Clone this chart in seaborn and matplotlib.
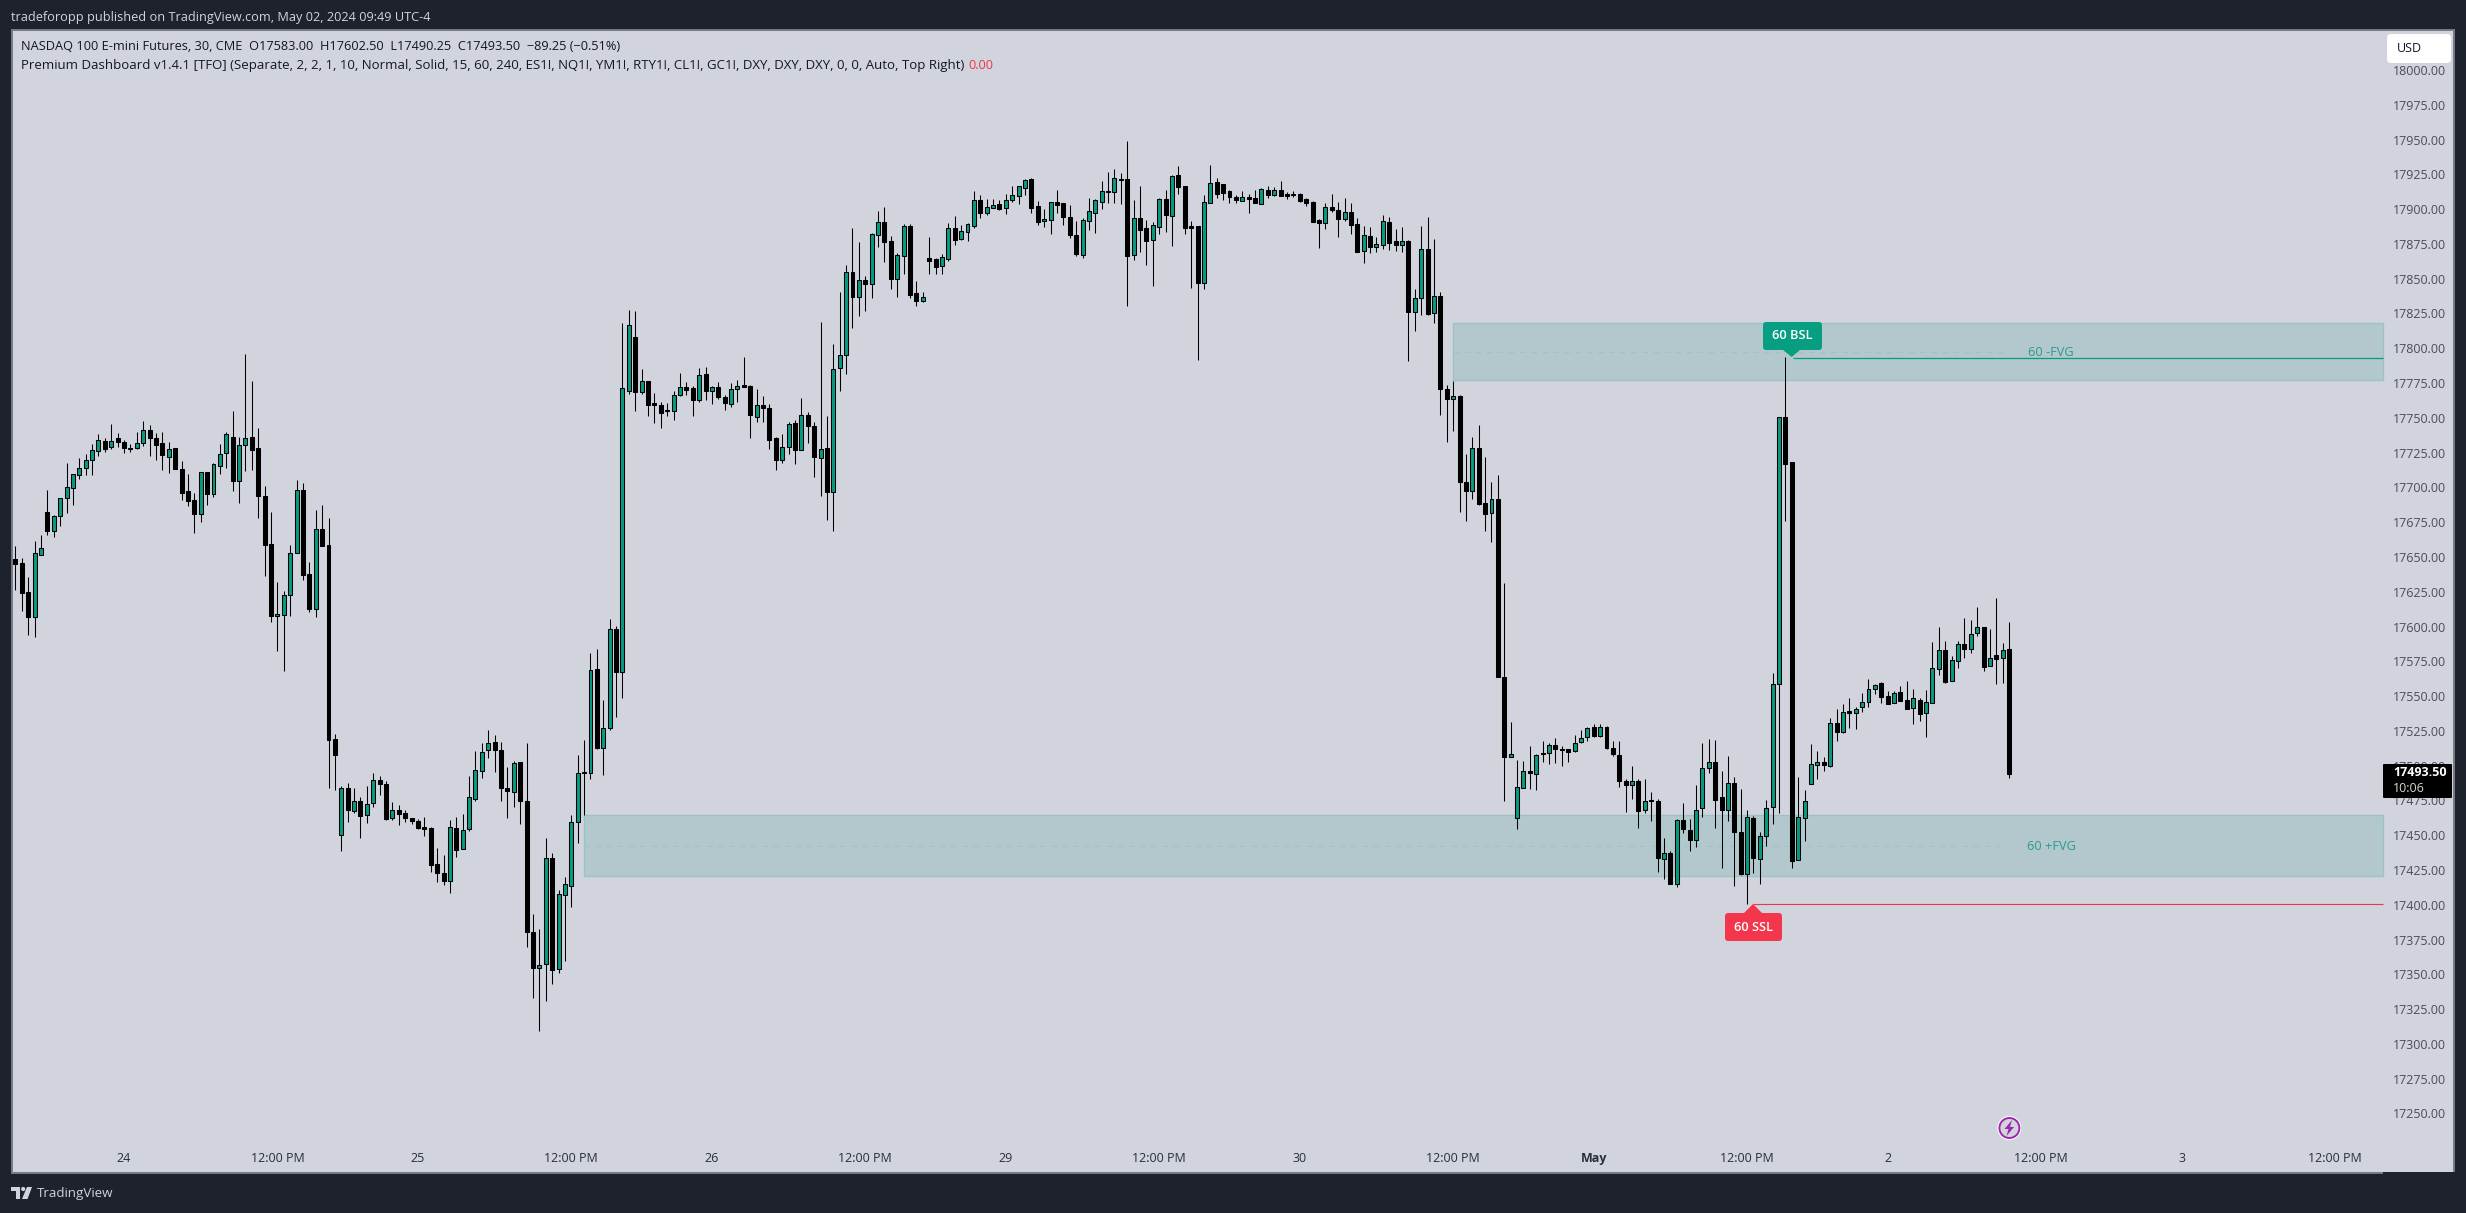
import numpy as np
import pandas as pd
import matplotlib
matplotlib.use('Agg')
import matplotlib.pyplot as plt
import seaborn as sns
from matplotlib.patches import Rectangle, Circle, Polygon, FancyBboxPatch
from matplotlib.transforms import IdentityTransform

# candle values (30 min bars, oldest first)
body_top = [
    17648.6, 17645.5, 17625, 17652.8, 17656.6, 17682.4, 17679.3, 17692.2, 17700.2, 17709.9, 17714.1, 17720, 17726.6, 17734.3, 17733.6, 17733.6, 17735.4, 17732.9, 17728, 17732.2,
    17741.3, 17741.3, 17735.4, 17731.9, 17727.3, 17728, 17713.4, 17697.4, 17690.8, 17711, 17711, 17716.9, 17724.2, 17738.1, 17736, 17730.8, 17735.7, 17736.4, 17728, 17693.5,
    17659, 17609.2, 17622.8, 17653.1, 17698.4, 17698.4, 17638.1, 17669.9, 17669.9, 17658.4, 17519.4, 17484.2, 17484.2, 17474.7, 17474.7, 17472.7, 17489.4, 17489.4, 17487, 17467.8,
    17468.1, 17465.7, 17462.6, 17460.5, 17455.6, 17454.9, 17429.5, 17422.5, 17455.6, 17454.9, 17453.5, 17477.2, 17497, 17510, 17516.6, 17517.3, 17511, 17483.8, 17501.6, 17502.3,
    17474.7, 17380.7, 17357, 17433.3, 17433.3, 17407.5, 17415.2, 17459.8, 17495, 17495.3, 17568.5, 17569.2, 17527.4, 17598.4, 17598.4,
    17771.1, 17816.5, 17807.8, 17776.7, 17776.2, 17760.4, 17759, 17755.6, 17766.6, 17771.9, 17771.9, 17771.2, 17781, 17781.2, 17771.9, 17771.9, 17764.7, 17770.5, 17773.1, 17773.3,
    17772.8, 17759.4, 17759, 17756.8, 17735.2, 17728.8, 17745.3, 17746, 17751.8, 17751.8, 17743.9, 17727.3, 17728, 17784.8, 17794.9, 17854.6, 17854.6, 17848.8, 17848.8, 17881.9,
    17890.5, 17890.5, 17876.8, 17866.8, 17887.6, 17887.6, 17839.5, 17836.6, 17864.6, 17863.9, 17865.3, 17886.2, 17886.2, 17884, 17889.1, 17906.3, 17906.3, 17901.3, 17903.2, 17903.4,
    17906.3, 17910.4, 17916.4, 17920.7, 17921.4, 17902, 17892.7, 17904.9, 17904.9, 17904.2, 17894.1, 17881.1, 17891.9, 17898.4, 17906.3, 17912.8, 17913, 17922.1, 17921.6, 17921.4,
    17893.4, 17893.4, 17886.4, 17888.3, 17907, 17907, 17923.6, 17924.3, 17916.6, 17887.9, 17887.6, 17904.9, 17918.5, 17919.2,
    17917.8, 17913, 17908.5, 17908.5, 17908.5, 17907.7, 17914.2, 17913.7, 17913.5, 17913.7, 17910.6, 17910.6, 17910.6, 17907, 17905.1, 17891.9, 17901.3, 17901.3, 17899.1, 17897.7,
    17897.7, 17889.1, 17881.1, 17880.4, 17874.7, 17891.2, 17890.5, 17876.8, 17876.8, 17876.8,
    17835.8, 17871, 17871, 17837.9, 17837.9, 17771, 17765.4, 17765.4, 17704.1, 17728.5, 17728.5, 17689.1, 17691.9, 17691.9, 17564, 17508.7, 17484.3, 17495.8, 17495.8, 17507.3,
    17509.3, 17514.6, 17514.6, 17512.1, 17512.1, 17516, 17520.1, 17526.8, 17527.5, 17527.8, 17527.8, 17512.8, 17507.9, 17489.1, 17489.1, 17489.1, 17474.9, 17475.5, 17474.9, 17436.9,
    17436.9, 17460.6, 17460.6, 17454, 17468.3, 17498.6, 17502.4, 17502.4, 17477.7, 17487.8, 17487.8, 17452.6, 17463.4, 17462.7, 17449.1, 17469.3, 17558.8, 17750.8, 17750.8, 17718,
    17463.4, 17474.9, 17501.3, 17502.4, 17502.4, 17530.3, 17531, 17538.3, 17539, 17541, 17545.9, 17555.3, 17558.1, 17559.2, 17549.8, 17552.2, 17552.6, 17547.3, 17548.4, 17547.3,
    17545.9, 17570.3, 17582.9, 17582.9, 17575.9, 17587.7, 17587.7, 17594.4, 17599.9, 17599.9, 17577.7, 17579.7, 17582.9, 17583.5,
]
body_bot = [
    17644.8, 17623.9, 17606.8, 17606.8, 17651.1, 17668.5, 17668.5, 17679.6, 17692.2, 17699.8, 17709.2, 17714.1, 17720, 17726.3, 17727.7, 17728.7, 17732.6, 17728.4, 17727.7, 17728,
    17732.2, 17735.4, 17730.5, 17723.2, 17722.1, 17713.1, 17696, 17690.1, 17680.7, 17681, 17695.3, 17695.3, 17715.5, 17724.9, 17704.7, 17704.7, 17730.8, 17727, 17693.9, 17658.7,
    17607.5, 17607.5, 17608.5, 17622.8, 17653.1, 17637.1, 17612.4, 17612.7, 17657.7, 17518.7, 17507.9, 17450.4, 17467.8, 17467.4, 17464, 17464.7, 17473.4, 17486.6, 17461.5, 17462.6,
    17465.3, 17462.2, 17460.5, 17454.9, 17454.2, 17428.4, 17422.8, 17417.2, 17417.2, 17439.2, 17440.3, 17454.2, 17476.1, 17496.3, 17511, 17511, 17484.2, 17482.1, 17481.4, 17474.4,
    17380.3, 17354.6, 17354.9, 17357.7, 17353.2, 17354.2, 17407.2, 17413.8, 17459.8, 17494.6, 17495, 17512.7, 17512.4, 17527.4, 17567.4,
    17567.5, 17769.5, 17768.5, 17768.8, 17759.2, 17759.2, 17753.7, 17754.9, 17755.1, 17766.6, 17770.2, 17763, 17763, 17769.5, 17769.5, 17765.2, 17760.6, 17760.2, 17770.9, 17772.1,
    17752.2, 17750.8, 17757.3, 17734.3, 17719.7, 17719.9, 17729.2, 17727.1, 17727.1, 17744.3, 17721.8, 17721.3, 17696.9, 17696.9, 17786, 17795.4, 17837.1, 17837.1, 17846.4, 17846.4,
    17881.6, 17876.6, 17850, 17850, 17866.5, 17838.3, 17834, 17834.2, 17862.9, 17858.6, 17859.3, 17864.4, 17878, 17878.8, 17883.8, 17888.1, 17897.4, 17897.4, 17901, 17900.1,
    17900.5, 17906.8, 17909.7, 17915.4, 17900.8, 17891, 17891.2, 17892.4, 17903.2, 17894.3, 17881.4, 17867.7, 17867.2, 17891.7, 17897.4, 17905.3, 17912.5, 17912.5, 17921.2, 17866.3,
    17866.8, 17885.2, 17877.3, 17878, 17887.4, 17895.8, 17895.3, 17916.1, 17886.4, 17886.4, 17847.1, 17847.1, 17904.6, 17911.1,
    17911.8, 17908.7, 17906.6, 17906.1, 17907.3, 17904.6, 17903.9, 17910.1, 17910.4, 17909.4, 17909.7, 17909.9, 17905.8, 17904.6, 17891, 17890.2, 17890.2, 17899.4, 17893.1, 17893.1,
    17888.8, 17869.4, 17870.1, 17873, 17873, 17874.4, 17875.6, 17874.4, 17874.4, 17826.3,
    17826.1, 17835.8, 17824.7, 17825, 17770.7, 17763.7, 17763.7, 17703.8, 17697.5, 17697.5, 17688.1, 17680.8, 17681.4, 17563.7, 17506.2, 17506.2, 17462.3, 17483.6, 17494.7, 17494,
    17508.3, 17509.3, 17512.1, 17511.1, 17509.7, 17510.7, 17516.7, 17520.8, 17521.5, 17521.5, 17512.5, 17508.3, 17489.1, 17486.3, 17486.3, 17467.2, 17468.3, 17474.9, 17433.4, 17433,
    17414.9, 17414.9, 17454.3, 17446.6, 17446.6, 17469.6, 17498.2, 17475.2, 17467.9, 17468.3, 17452.2, 17421.9, 17421.9, 17433.4, 17432.7, 17449.7, 17470, 17558.8, 17716.7, 17431.3,
    17432.4, 17462.7, 17487, 17500.7, 17500.7, 17499.6, 17524, 17524, 17537.6, 17537.6, 17541.8, 17545.9, 17555.3, 17549.4, 17544.2, 17545.2, 17546.3, 17541, 17541.4, 17537.2,
    17537.6, 17545.2, 17569.6, 17559.9, 17560.5, 17575.5, 17583.5, 17583.5, 17595.7, 17571, 17571.4, 17576.9, 17577.7, 17494,
]
wick_hi = [
    17657.7, 17649.3, 17635.7, 17661.5, 17666, 17698.1, 17680, 17692.2, 17717.6, 17709.9, 17721.1, 17724.2, 17731.2, 17738.1, 17735.7, 17745.5, 17739.2, 17734, 17731.2, 17739.9,
    17747.5, 17744.8, 17739.2, 17739.9, 17732.6, 17728, 17719, 17709.6, 17696, 17711, 17711, 17717.6, 17731.2, 17739.9, 17754.9, 17736, 17796, 17776.5, 17742.7, 17700.9,
    17682.4, 17631.9, 17625.6, 17658.7, 17705.4, 17703, 17646.2, 17683.8, 17687.3, 17677.9, 17522.8, 17485.2, 17487.3, 17483.8, 17477.5, 17485.2, 17495, 17492.5, 17489, 17474.1,
    17471.6, 17468.1, 17462.6, 17461.9, 17462.9, 17455.9, 17440.6, 17435.7, 17460.8, 17462.9, 17465.3, 17492.5, 17510.6, 17516.2, 17525.6, 17522.1, 17516.9, 17499.1, 17503.7, 17502.3,
    17516.2, 17393.2, 17382.4, 17447.9, 17437.1, 17410.6, 17420, 17464.3, 17507.5, 17518.7, 17581, 17583.8, 17547.2, 17605.4, 17600.5,
    17818.1, 17827.5, 17826.8, 17785.1, 17776.2, 17767.6, 17761.1, 17760.4, 17769.3, 17782.2, 17775.7, 17772.8, 17785.8, 17786.5, 17772.8, 17775.7, 17766.1, 17775, 17776.9, 17793.7,
    17773.6, 17770.5, 17765.7, 17759.7, 17736, 17738.4, 17747, 17748.4, 17764.2, 17754.2, 17746.7, 17818.9, 17751.3, 17803, 17840.4, 17859.8, 17886.4, 17876.4, 17851.9, 17882.6,
    17898.6, 17901.3, 17880.7, 17868.2, 17889.3, 17889.3, 17848.1, 17840.2, 17880, 17864.9, 17867.7, 17890, 17895.1, 17888.6, 17890.2, 17913, 17910.1, 17907.3, 17907.3, 17906.6,
    17910.9, 17916.6, 17916.6, 17921.6, 17922.1, 17905.8, 17900, 17905.3, 17913.7, 17904.2, 17902.9, 17891.4, 17893.4, 17907.7, 17907, 17920.2, 17926.7, 17928.8, 17925.9, 17949,
    17906.6, 17916.6, 17892.2, 17890.7, 17908, 17913.7, 17924.5, 17931, 17916.6, 17891.4, 17887.6, 17910.1, 17931.7, 17922.4,
    17917.8, 17913.7, 17910.1, 17913, 17910.9, 17913.7, 17914.9, 17916.6, 17915.9, 17920.2, 17912.3, 17913, 17911.3, 17908, 17905.6, 17892.9, 17904.2, 17910.9, 17905.1, 17908,
    17904.4, 17893.6, 17887.9, 17887.1, 17880, 17895.8, 17894.3, 17885.7, 17887.1, 17877.8,
    17842.4, 17887.7, 17894.7, 17878.7, 17840.3, 17773.4, 17776.6, 17766.1, 17724, 17736.5, 17745.2, 17721.9, 17704.1, 17709, 17631.3, 17531.3, 17503.8, 17503, 17513.9, 17508.3,
    17517.4, 17516.3, 17519.8, 17514.2, 17512.1, 17522.2, 17525.7, 17527.8, 17529.9, 17529.9, 17528.5, 17518, 17517.4, 17490.2, 17499.6, 17490.2, 17490.2, 17481.1, 17475.9, 17448,
    17439, 17461.3, 17473.4, 17461.6, 17486, 17516.3, 17519.1, 17518.4, 17496.1, 17506.9, 17491.9, 17483.2, 17467.9, 17464, 17452.6, 17475.2, 17566.5, 17750.8, 17793.7, 17718,
    17491.9, 17482.5, 17515.6, 17510.4, 17505.9, 17534.1, 17540.7, 17544.2, 17548.7, 17541.8, 17551.9, 17562, 17558.8, 17559.9, 17554, 17553.6, 17557.1, 17560.9, 17555.3, 17548.7,
    17554.6, 17588.8, 17599.9, 17589.8, 17579, 17589.5, 17605.8, 17604.4, 17613.9, 17599.9, 17598.2, 17620.5, 17588.1, 17603,
]
wick_lo = [
    17626.3, 17611, 17593.6, 17592.5, 17651.1, 17665.7, 17664.3, 17672.3, 17681.7, 17687.3, 17706.1, 17708.9, 17708.9, 17722.5, 17725.3, 17727.7, 17729.1, 17724.6, 17725.3, 17727.3,
    17729.8, 17722.5, 17719.7, 17712.4, 17710.3, 17713.1, 17690.8, 17686.6, 17667.1, 17675.1, 17687.3, 17693.2, 17709.6, 17713.8, 17697.4, 17688.7, 17711.7, 17712.4, 17677.9, 17636.4,
    17603.3, 17582.4, 17568.1, 17607.5, 17653.1, 17633.3, 17610.3, 17606.8, 17657.7, 17483.8, 17482.4, 17438.5, 17459.4, 17466, 17447.9, 17458.7, 17470.2, 17478.9, 17460.8, 17460.8,
    17457.3, 17459.4, 17458, 17454.2, 17449.3, 17423.5, 17416.2, 17414.1, 17408.6, 17434.7, 17439.9, 17452.8, 17474.4, 17491.1, 17505.4, 17495.3, 17474.4, 17462.2, 17470.2, 17458,
    17369.5, 17333, 17309.6, 17331.2, 17343, 17351, 17359.4, 17398.5, 17444.4, 17464.3, 17490.4, 17512, 17493.2, 17525.3, 17535,
    17548.8, 17767.1, 17754.9, 17767.1, 17751.3, 17746.5, 17742.9, 17751.5, 17748.4, 17765.7, 17766.4, 17751.3, 17761.4, 17762.8, 17759.9, 17763.5, 17755.6, 17757.8, 17761.4, 17772.1,
    17735.5, 17747, 17747, 17727.6, 17712.5, 17717.5, 17724, 17716.8, 17727.1, 17731.9, 17707.5, 17693.8, 17676.5, 17668.6, 17769.5, 17781.5, 17814.5, 17823.4, 17826.8, 17836.1,
    17872.8, 17862, 17842.6, 17836.8, 17853.4, 17835.9, 17830.4, 17833.2, 17853.4, 17853.4, 17853.4, 17862.7, 17874.2, 17878, 17877.1, 17886.4, 17893.6, 17895.8, 17900.5, 17899.4,
    17896.5, 17905.1, 17903.7, 17910.1, 17897.2, 17888.6, 17887.1, 17882.1, 17897, 17888.6, 17879.2, 17866.3, 17864.9, 17884.8, 17882.8, 17900, 17904.2, 17904.4, 17903.7, 17830.4,
    17863.4, 17868.9, 17859.8, 17844.7, 17881.9, 17883.3, 17873.5, 17910.9, 17882.1, 17843.3, 17791.5, 17842.6, 17904.6, 17908,
    17906.6, 17904.4, 17904.4, 17906.1, 17897.2, 17904.6, 17903.9, 17908, 17909.4, 17909.4, 17907.3, 17908.7, 17905.1, 17902.2, 17891, 17872, 17885.7, 17897.9, 17880, 17891.4,
    17882.1, 17869.2, 17861.3, 17868.5, 17869.2, 17871.3, 17870.6, 17869.9, 17869.2, 17790.8,
    17812.4, 17824, 17824, 17818, 17751.8, 17732.7, 17740.3, 17682.2, 17675.9, 17691.6, 17687.4, 17668.6, 17660.6, 17563.7, 17474.5, 17505.9, 17454.3, 17483.6, 17483.2, 17482.5,
    17502.7, 17501, 17501.7, 17499.6, 17502.7, 17510, 17516.3, 17518, 17520.8, 17520.8, 17511.8, 17506.9, 17484.6, 17466.5, 17476.3, 17455, 17465.8, 17459.9, 17423.7, 17418.4,
    17414.9, 17412.9, 17451.5, 17438.6, 17441.4, 17463, 17494.7, 17455.4, 17426.4, 17460.2, 17413.5, 17421.6, 17400.7, 17423, 17414.6, 17442.4, 17457.8, 17465.8, 17675.9, 17426.4,
    17432, 17445.6, 17487, 17490.5, 17496.1, 17498.9, 17517.7, 17523.3, 17527.1, 17526.4, 17538.6, 17542.1, 17551.5, 17544.9, 17544.2, 17545.2, 17546.3, 17541, 17529.9, 17532,
    17520.5, 17545.2, 17565.1, 17559.2, 17560.5, 17570.3, 17577.3, 17580.7, 17593, 17567.9, 17571.4, 17558.8, 17559.2, 17491.2,
]
# G = up bar, B = down bar
direction = (
    "BBBGGBGGGG" "GGGGBGBBBG" "GBBBGBBBBG" "BGGGBGGBBB" "BGGGGBBGBB" "BGBGBGGBBG" "BBBBBBBBGB" "GGGGGBBBGB" "BBGGBGGGGB" "GBGGB"
    "GGBGB" "BBBGGBBGBG" "BBGGBBGBBB" "GGBGBBGBGG" "GBGBGGBBGG" "BBGBBGGBGG" "GBGGBGGGGB" "BGGBBBBGGG" "GBGBBGBBGG" "BGBBBBGGB"
    "BBBGBBGBGB" "BBBBBBGBBG" "BBGBGGBBGB"
    "GGBGBBGBBG" "BBGBBGGGBG" "BGBBBGGGBG" "BBBBGBGBBG" "BGBBGGGBBG" "BBGBGGGGBB" "GGGGBGBGBG" "GGGBBGBBGB" "GGGBGGBGGB" "GBGB"
)

price_ticks = np.arange(18000, 17249, -25)
time_tick_bars = [17, 41, 63, 87, 109, 133, 155, 179, 201, 225, 247, 271, 293, 317, 339, 363]
time_tick_labels = ['24', '12:00 PM', '25', '12:00 PM', '26', '12:00 PM', '29', '12:00 PM', '30', '12:00 PM',
                    'May', '12:00 PM', '2', '12:00 PM', '3', '12:00 PM']

fvg_upper = [17818.3, 17776.9, 17797.0]   # top, bottom, mid
fvg_lower = [17464.3, 17420.5, 17442.5]
bsl_price = 17793.0
ssl_price = 17400.25
last_close = '17493.50'

W, H = 2466, 1213
DARK = '#1e222d'
PANEL = '#d1d4dc'
GREEN = '#089981'
RED = '#f23645'
BORDER = '#787b86'
ZONE_EDGE = '#9cc3c3'

sns.set_theme(style='white', rc={'axes.facecolor': PANEL, 'figure.facecolor': DARK})
plt.rcParams['font.family'] = ['Open Sans', 'DejaVu Sans']

df = pd.DataFrame({'bar': np.arange(len(body_top)), 'top': body_top, 'bot': body_bot,
                   'hi': wick_hi, 'lo': wick_lo, 'dir': list(direction)})
df['size'] = df['top'] - df['bot']

fig = plt.figure(figsize=(W / 100, H / 100), dpi=100)
ax = fig.add_axes([12 / W, 1 - 1173 / H, (2454 - 12) / W, (1173 - 30) / H])


# helpers for the tradingview chrome, positions in image pixels
def px_box(x0, y0, x1, y1, color, round_px=3, zorder=5):
    p = FancyBboxPatch((x0 + round_px, H - y1 + round_px), x1 - x0 - 2 * round_px, y1 - y0 - 2 * round_px,
                       boxstyle=f'round,pad={round_px},rounding_size={round_px}', fc=color, ec='none',
                       transform=IdentityTransform(), zorder=zorder)
    fig.add_artist(p)


def px_poly(points, color, zorder=5):
    pts = [(x, H - y) for x, y in points]
    fig.add_artist(Polygon(pts, closed=True, fc=color, ec='none', transform=IdentityTransform(), zorder=zorder))


def px_text(x, y, s, **kw):
    kw.setdefault('va', 'center')
    kw.setdefault('zorder', 7)
    fig.text(x / W, 1 - y / H, s, **kw)


# fvg zones sit under the candles
for zone, start in [(fvg_upper, 225), (fvg_lower, 89)]:
    ax.add_patch(Rectangle((start, zone[1]), 370.5 - start, zone[0] - zone[1], fc='#b2c8cc', ec=ZONE_EDGE,
                           lw=1.0, zorder=1))
    ax.hlines(zone[2], start, 311, colors='#9fc4c6', linestyles=(0, (5, 5)), lw=0.8, zorder=1.5)

ax.hlines(bsl_price, 278.2, 370.5, colors=GREEN, lw=0.9, zorder=2)
ax.hlines(ssl_price, 271.9, 370.5, colors=RED, lw=0.8, zorder=2)
ax.text(318.5, fvg_upper[2], '60 -FVG', color='#2b9c90', fontsize=9.2, ha='center', va='center', zorder=2)
ax.text(318.6, fvg_lower[2] - 0.8, '60 +FVG', color='#2b9c90', fontsize=9.2, ha='center', va='center', zorder=2)

ax.vlines(df['bar'], df['lo'], df['hi'], colors='black', lw=0.75, zorder=3)

for code, fill in [('G', GREEN), ('B', 'black')]:
    sub = df[df['dir'] == code]
    sns.barplot(data=sub, x='bar', y='size', bottom=sub['bot'].to_numpy(), native_scale=True, ax=ax,
                color=fill, saturation=1, width=0.62, errorbar=None, edgecolor='black', linewidth=0.75, zorder=4)

ax.set_xlim((12 - 15.4) / 6.39, (2454 - 15.4) / 6.39)
ax.set_ylim(18000 - (1173 - 70) / 1.3913, 18000 - (30 - 70) / 1.3913)
ax.set_xlabel('')
ax.set_ylabel('')

ax.yaxis.tick_right()
ax.set_yticks(price_ticks)
ax.set_yticklabels([f'{p:.2f}' for p in price_ticks], ha='right')
ax.tick_params(axis='y', length=0, pad=-5.8, labelsize=9, labelcolor='#4a4d57')
ax.set_xticks(time_tick_bars)
ax.set_xticklabels(time_tick_labels, va='center')
ax.tick_params(axis='x', length=0, pad=-10.1, labelsize=9, labelcolor='#2a2e39')
for lab in ax.get_xticklabels():
    if lab.get_text() == 'May':
        lab.set_fontweight('bold')

for side in ax.spines:
    ax.spines[side].set_visible(True)
    ax.spines[side].set_color(BORDER)
    ax.spines[side].set_linewidth(1.4)

# bottom border stops at the price scale
fig.add_artist(Rectangle((2383, H - 1175), 73, 3, fc=DARK, ec='none', transform=IdentityTransform(), zorder=4))

# header and legend
px_text(11, 17.5, 'tradeforopp published on TradingView.com, May 02, 2024 09:49 UTC-4', color=PANEL, fontsize=9.15)
px_text(21, 46.7, 'NASDAQ 100 E-mini Futures, 30, CME  O17583.00  H17602.50  L17490.25  C17493.50  \u221289.25 (\u22120.51%)',
        color='#131722', fontsize=9.15)
px_text(21, 65.7, 'Premium Dashboard v1.4.1 [TFO] (Separate, 2, 2, 1, 10, Normal, Solid, 15, 60, 240, ES1!, NQ1!, YM1!, '
        'RTY1!, CL1!, GC1!, DXY, DXY, DXY, 0, 0, Auto, Top Right)', color='#131722', fontsize=9.5)
px_text(968, 65.7, '0.00', color=RED, fontsize=9.15)

# USD button
px_box(2387, 34, 2451, 63, 'white', round_px=4)
px_text(2397, 48.5, 'USD', color='#131722', fontsize=9)

# last price tag
px_box(2383, 764, 2452, 798, 'black', round_px=1)
px_text(2393, 773, last_close, color='white', fontsize=9, fontweight='bold')
px_text(2393, 788, '10:06', color='#d8d8d8', fontsize=9)

# liquidity labels
px_box(1763, 322, 1822, 350, '#089e82', round_px=3)
px_poly([(1783, 350), (1800, 350), (1791.7, 357)], '#089e82')
px_text(1792.5, 335.5, '60 BSL', color='white', fontsize=9.2, ha='center', fontweight='semibold')
px_box(1725, 913, 1782, 941, '#f4364c', round_px=3)
px_poly([(1744, 913), (1762, 913), (1753, 904)], '#f4364c')
px_text(1753, 927.5, '60 SSL', color='white', fontsize=9.2, ha='center', fontweight='semibold')

# lightning badge
fig.add_artist(Circle((2009.4, H - 1128), 12, fc='white', ec='none', transform=IdentityTransform(), zorder=5))
fig.add_artist(Circle((2009.4, H - 1128), 10, fc=PANEL, ec='#9c27b0', lw=1.4, transform=IdentityTransform(), zorder=6))
px_poly([(2012, 1120), (2004.5, 1129), (2008.5, 1129), (2006.5, 1136), (2014, 1127), (2010, 1127)], '#9c27b0', zorder=7)

# footer logo
px_poly([(11, 1187), (20, 1187), (20, 1199), (15.5, 1199), (15.5, 1191), (11, 1191)], PANEL)
fig.add_artist(Circle((23.2, H - 1189), 2.1, fc=PANEL, ec='none', transform=IdentityTransform(), zorder=5))
px_poly([(27, 1187), (32, 1187), (27.5, 1199), (22, 1199)], PANEL)
px_text(36.5, 1194, 'TradingView', color=PANEL, fontsize=9.6)

plt.savefig('out.png', dpi=100, facecolor=fig.get_facecolor())
